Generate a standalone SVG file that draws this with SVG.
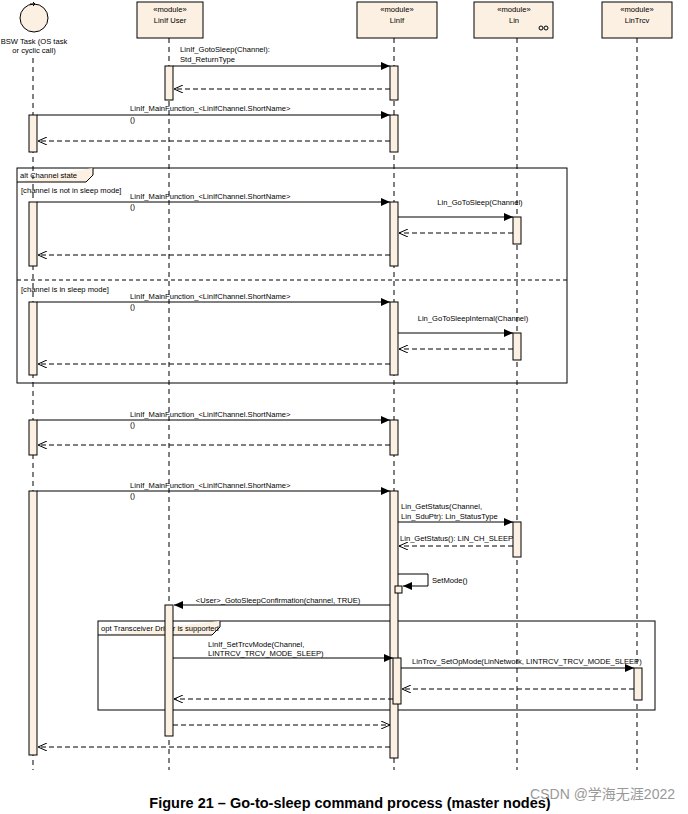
<svg xmlns="http://www.w3.org/2000/svg" width="688" height="814" viewBox="0 0 688 814">
<style>
text{font-family:"Liberation Sans",Arial,sans-serif;font-size:7.6px;fill:#000}
.hd{fill:#fbf0e2;stroke:#000;stroke-width:1}
.ll{stroke:#000;stroke-dasharray:5,4;stroke-width:1}
.bar{fill:#fbf0e2;stroke:#000;stroke-width:1}
.m{stroke:#000;stroke-width:1;fill:none;marker-end:url(#f)}
.r{stroke:#000;stroke-width:1;fill:none;stroke-dasharray:5,3;marker-end:url(#o)}
.fr{fill:none;stroke:#000;stroke-width:1}
.c{text-anchor:middle}
</style>
<defs>
<marker id="f" markerWidth="10" markerHeight="8" refX="9" refY="4" orient="auto" markerUnits="userSpaceOnUse"><path d="M0,0 L9,4 L0,8z" fill="#000"/></marker>
<marker id="o" markerWidth="10" markerHeight="8" refX="9" refY="4" orient="auto" markerUnits="userSpaceOnUse"><path d="M0,0 L9,4 L0,8" fill="none" stroke="#000" stroke-dasharray="none"/></marker>
</defs>
<rect width="688" height="814" fill="#fff"/>
<g id="bsw"><circle cx="34" cy="18" r="14" class="hd"/><path d="M30,4 L35,4 M33,2 L35,4 L33,6" stroke="#000" fill="none"/><text x="34" y="44" class="c">BSW Task (OS task</text><text x="34" y="53" class="c">or cyclic call)</text><line x1="33" y1="58" x2="33" y2="770" class="ll"/></g>
<g id="linifuser"><rect x="137" y="2" width="66" height="36" class="hd"/><text x="170" y="12" class="c">«module»</text><text x="170" y="23" class="c">LinIf User</text><line x1="169" y1="38" x2="169" y2="770" class="ll"/></g>
<g id="linif"><rect x="357" y="2" width="80" height="36" class="hd"/><text x="397" y="12" class="c">«module»</text><text x="397" y="23" class="c">LinIf</text><line x1="394" y1="38" x2="394" y2="770" class="ll"/></g>
<g id="lin"><rect x="474" y="2" width="79" height="36" class="hd"/><text x="514" y="12" class="c">«module»</text><text x="514" y="23" class="c">Lin</text><circle cx="541" cy="28" r="2" fill="none" stroke="#000"/><circle cx="546" cy="28" r="2" fill="none" stroke="#000"/><line x1="517" y1="38" x2="517" y2="770" class="ll"/></g>
<g id="lintrcv"><rect x="602" y="2" width="70" height="36" class="hd"/><text x="637" y="12" class="c">«module»</text><text x="637" y="23" class="c">LinTrcv</text><line x1="637" y1="38" x2="637" y2="770" class="ll"/></g>
<g id="frames">
<rect x="17" y="168" width="550" height="215" class="fr"/><path d="M17,182 H86 L93,175 V168" class="hd"/><text x="20" y="178">alt Channel state</text>
<text x="21" y="193">[channel is not in sleep mode]</text>
<line x1="17" y1="280" x2="567" y2="280" stroke="#000" stroke-dasharray="4,3"/>
<text x="21" y="292">[channel is in sleep mode]</text>
<rect x="98" y="621" width="557" height="89" class="fr"/><path d="M98,635 H212 L220,627 V621" class="hd"/><text x="101" y="631">opt Transceiver Driver is supported</text>
</g>
<g id="bars">
<rect x="165" y="66" width="8" height="34" class="bar"/><rect x="390" y="66" width="8" height="34" class="bar"/>
<rect x="29" y="115" width="8" height="37" class="bar"/><rect x="390" y="115" width="8" height="37" class="bar"/>
<rect x="29" y="202" width="8" height="64" class="bar"/><rect x="390" y="202" width="8" height="64" class="bar"/><rect x="513" y="217" width="8" height="27" class="bar"/>
<rect x="29" y="302" width="8" height="73" class="bar"/><rect x="390" y="302" width="8" height="73" class="bar"/><rect x="513" y="333" width="8" height="27" class="bar"/>
<rect x="29" y="420" width="8" height="35" class="bar"/><rect x="390" y="420" width="8" height="35" class="bar"/>
<rect x="29" y="491" width="8" height="264" class="bar"/><rect x="390" y="491" width="8" height="267" class="bar"/>
<rect x="513" y="522" width="8" height="35" class="bar"/>
<rect x="395" y="586" width="7" height="7" class="bar"/>
<rect x="165" y="605" width="8" height="131" class="bar"/>
<rect x="393" y="658" width="8" height="46" class="bar"/>
<rect x="634" y="668" width="8" height="32" class="bar"/>
</g>
<g id="connectors">
<line x1="173" y1="66" x2="390" y2="66" class="m"/><text x="180" y="52">LinIf_GotoSleep(Channel):</text><text x="180" y="62">Std_ReturnType</text>
<line x1="390" y1="89" x2="174" y2="89" class="r"/>
<line x1="37" y1="115" x2="390" y2="115" class="m"/><text x="130" y="111">LinIf_MainFunction_&lt;LinIfChannel.ShortName&gt;</text><text x="130" y="122">()</text>
<line x1="390" y1="141" x2="38" y2="141" class="r"/>
<line x1="37" y1="202" x2="390" y2="202" class="m"/><text x="130" y="199">LinIf_MainFunction_&lt;LinIfChannel.ShortName&gt;</text><text x="130" y="209">()</text>
<line x1="398" y1="217" x2="513" y2="217" class="m"/><text x="480" y="205" class="c">Lin_GoToSleep(Channel)</text>
<line x1="513" y1="233" x2="399" y2="233" class="r"/>
<line x1="390" y1="255" x2="38" y2="255" class="r"/>
<line x1="37" y1="302" x2="390" y2="302" class="m"/><text x="130" y="299">LinIf_MainFunction_&lt;LinIfChannel.ShortName&gt;</text><text x="130" y="309">()</text>
<line x1="398" y1="333" x2="513" y2="333" class="m"/><text x="473" y="321" class="c">Lin_GoToSleepInternal(Channel)</text>
<line x1="513" y1="349" x2="399" y2="349" class="r"/>
<line x1="390" y1="364" x2="38" y2="364" class="r"/>
<line x1="37" y1="420" x2="390" y2="420" class="m"/><text x="130" y="417">LinIf_MainFunction_&lt;LinIfChannel.ShortName&gt;</text><text x="130" y="427">()</text>
<line x1="390" y1="445" x2="38" y2="445" class="r"/>
<line x1="37" y1="491" x2="390" y2="491" class="m"/><text x="130" y="488">LinIf_MainFunction_&lt;LinIfChannel.ShortName&gt;</text><text x="130" y="498">()</text>
<line x1="398" y1="522" x2="513" y2="522" class="m"/><text x="401" y="509">Lin_GetStatus(Channel,</text><text x="401" y="519">Lin_SduPtr): Lin_StatusType</text>
<line x1="513" y1="546" x2="399" y2="546" class="r"/><text x="400" y="541">Lin_GetStatus(): LIN_CH_SLEEP</text>
<path d="M398,574 H428 V586 H403" class="m"/><text x="432" y="583">SetMode()</text>
<line x1="390" y1="605" x2="174" y2="605" class="m"/><text x="278" y="603" class="c">&lt;User&gt;_GotoSleepConfirmation(channel, TRUE)</text>
<line x1="173" y1="658" x2="393" y2="658" class="m"/><text x="208" y="647">LinIf_SetTrcvMode(Channel,</text><text x="208" y="656">LINTRCV_TRCV_MODE_SLEEP)</text>
<line x1="401" y1="668" x2="634" y2="668" class="m"/><text x="412" y="664">LinTrcv_SetOpMode(LinNetwork, LINTRCV_TRCV_MODE_SLEEP)</text>
<line x1="634" y1="689" x2="402" y2="689" class="r"/>
<line x1="393" y1="699" x2="174" y2="699" class="r"/>
<line x1="173" y1="725" x2="390" y2="725" class="r"/>
<line x1="390" y1="747" x2="38" y2="747" class="r"/>
</g>
<text x="350" y="808" class="c" style="font-size:14.5px;font-weight:bold">Figure 21 – Go-to-sleep command process (master nodes)</text>
<text x="675" y="799" style="font-size:14px;fill:#999;text-anchor:end;font-family:'Liberation Sans','Noto Sans CJK SC',sans-serif">CSDN @学海无涯2022</text>
</svg>
